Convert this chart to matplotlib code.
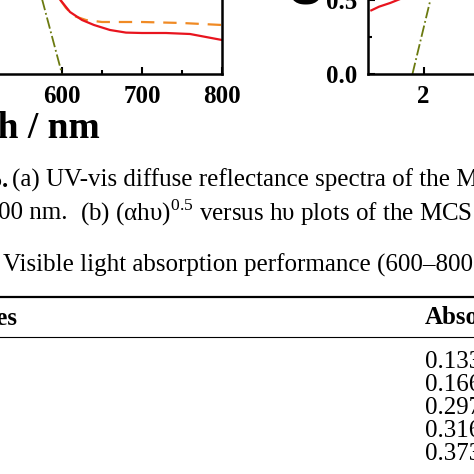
import matplotlib
matplotlib.use("Agg")
import matplotlib.pyplot as plt
from matplotlib.lines import Line2D

plt.rcParams['font.family'] = ['Liberation Serif', 'DejaVu Serif']
plt.rcParams['mathtext.fontset'] = 'custom'
plt.rcParams['mathtext.rm'] = 'Liberation Serif'

# panel (a): reflectance spectra (visible part only)
wl_orange = [598, 605, 615, 630, 650, 700, 750, 800]
ab_orange = [0.37, 0.33, 0.29, 0.27, 0.26, 0.26, 0.255, 0.245]
wl_red = [598, 610, 625, 640, 660, 680, 700, 730, 760, 780, 800]
ab_red = [0.37, 0.31, 0.27, 0.245, 0.22, 0.207, 0.205, 0.205, 0.2, 0.185, 0.17]
wl_edge = [560, 600]
ab_edge = [0.6, 0.0]

# panel (b): Tauc plot (visible part only)
hv_red = [1.53, 1.6, 1.7, 1.8, 1.85]
tauc_red = [0.43, 0.455, 0.48, 0.51, 0.53]
hv_edge = [1.9, 2.1]
tauc_edge = [0.0, 0.62]

# table values
absorbance = ["0.133", "0.166", "0.297", "0.316", "0.373"]

W = H = 474
fig = plt.figure(figsize=(4.74, 4.74), dpi=100)

def fx(x):
    return x / W

def fy(y):
    return 1 - y / H

bold = dict(fontweight='bold')

# ---- panel (a)
ax = fig.add_axes([fx(-98), fy(74), fx(320), 200 / H])
ax.plot(wl_edge, ab_edge, color='#6b7a10', ls='-.', lw=1.3)
ax.plot(wl_orange, ab_orange, color='#f08a24', ls=(0, (6, 4)), lw=1.6)
ax.plot(wl_red, ab_red, color='#e8141e', lw=1.6)
ax.set_xlim(400, 800)
ax.set_ylim(0, 1)
ax.set_xticks([600, 700, 800])
ax.set_xticks([650, 750], minor=True)
ax.set_yticks([])
ax.tick_params(direction='in', labelsize=18, width=1.5, length=5, pad=8)
ax.tick_params(which='minor', direction='in', width=1.5, length=3)
for lab in ax.get_xticklabels():
    lab.set_fontweight('bold')
for s in ax.spines.values():
    s.set_linewidth(1.8)
fig.text(fx(100), fy(128), 'Wavelength / nm', fontsize=27, **bold,
         ha='right', va='center')

# ---- panel (b)
bx = fig.add_axes([fx(368), fy(74), fx(200), 222 / H])
bx.plot(hv_edge, tauc_edge, color='#6b7a10', ls='-.', lw=1.3)
bx.plot(hv_red, tauc_red, color='#e8141e', lw=1.6)
bx.set_xlim(1.5, 3.3)
bx.set_ylim(0, 1.5)
bx.set_xticks([2, 3])
bx.set_yticks([0.0, 0.5, 1.0])
bx.set_yticklabels(['0.0', '0.5', '1.0'])
bx.set_yticks([0.25, 0.75], minor=True)
bx.tick_params(direction='in', labelsize=18, width=1.5, length=5, pad=8)
bx.tick_params(which='minor', direction='in', width=1.5, length=3)
for lab in bx.get_xticklabels() + bx.get_yticklabels():
    lab.set_fontweight('bold')
for s in bx.spines.values():
    s.set_linewidth(1.8)
fig.text(fx(305), fy(4), '(αhυ)', rotation=90, fontsize=24, **bold,
         ha='center', va='bottom')

# ---- caption
cap = 18
fig.text(fx(8), fy(180), 'Figure 5.', fontsize=cap, **bold, ha='right', va='center')
fig.text(fx(12), fy(180), '(a) UV-vis diffuse reflectance spectra of the MCS samples',
         fontsize=cap, va='center')
fig.text(fx(68), fy(213), 'absorption edge at 600 nm.', fontsize=cap, ha='right', va='center')
fig.text(fx(80), fy(213), '(b) (αhυ)$^{0.5}$ versus hυ plots of the MCS samples.',
         fontsize=cap, va='center')

# ---- table
fig.text(fx(3), fy(265), 'Visible light absorption performance (600–800 nm) of the MCS samples.',
         fontsize=cap, va='center')
fig.text(fx(0), fy(265), 'Table 1. ', fontsize=cap, **bold, ha='right', va='center')
fig.add_artist(Line2D([0, 1], [fy(297), fy(297)], color='black', lw=1.6))
fig.add_artist(Line2D([0, 1], [fy(337), fy(337)], color='black', lw=0.8))
fig.text(fx(18), fy(318), 'Samples', fontsize=cap, **bold, ha='right', va='center')
fig.text(fx(425), fy(318), 'Absorbance', fontsize=cap, **bold, va='center')
for i, v in enumerate(absorbance):
    fig.text(fx(425), fy(362 + 23 * i), v, fontsize=cap, va='center')

fig.savefig('out.png', dpi=100)
